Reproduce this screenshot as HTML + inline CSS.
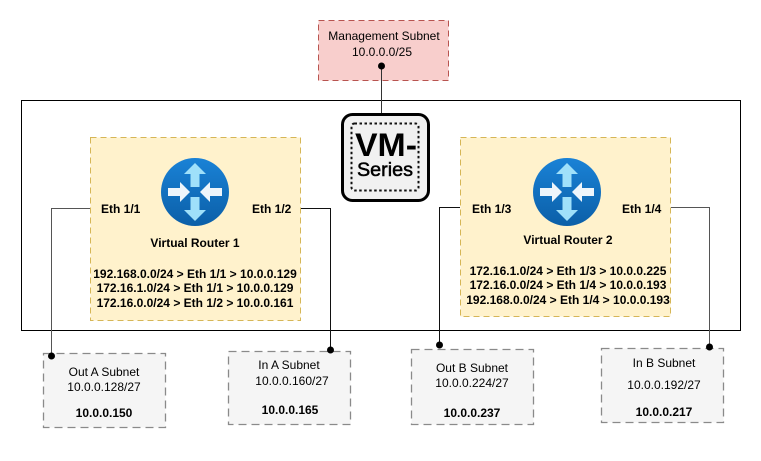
<!DOCTYPE html>
<html><head><meta charset="utf-8"><style>
html,body{margin:0;padding:0;background:#fff;}
svg{display:block;}
text{font-family:"Liberation Sans",Arial,sans-serif;font-size:12px;fill:#000;}
.b{font-weight:bold;}
</style></head><body>
<svg width="761" height="461" viewBox="0 0 761 461" xmlns="http://www.w3.org/2000/svg">
<defs>
<linearGradient id="rg" x1="0" y1="0" x2="0" y2="1">
<stop offset="0" stop-color="#1a82d6"/><stop offset="1" stop-color="#0b5fa8"/>
</linearGradient>
<g id="router">
<circle cx="34" cy="34" r="34" fill="url(#rg)"/>
<polygon points="34,5 45,16 38.5,16 38.5,29 29.5,29 29.5,16 23,16" fill="#9fe0fa"/>
<polygon points="34,63 45,52 38.5,52 38.5,39 29.5,39 29.5,52 23,52" fill="#9fe0fa"/>
<polygon points="29,34 19,24 19,30 7,30 7,38 19,38 19,44" fill="#eef5fb"/>
<polygon points="39,34 49,24 49,30 61,30 61,38 49,38 49,44" fill="#eef5fb"/>
</g>
</defs>

<!-- Management subnet -->
<rect x="318.5" y="20.5" width="130" height="60" fill="#f8cecc" stroke="#b85450" stroke-width="1" stroke-dasharray="6,4"/>
<text x="384" y="40" text-anchor="middle">Management Subnet</text>
<text x="382" y="56" text-anchor="middle">10.0.0.0/25</text>

<!-- outer box -->
<rect x="21.5" y="100.5" width="719" height="230" fill="none" stroke="#000" stroke-width="1"/>

<!-- mgmt connector -->
<line x1="381.5" y1="66" x2="381.5" y2="114" stroke="#333" stroke-width="1"/>
<circle cx="381.5" cy="66" r="3.5" fill="#000"/>

<!-- VM-Series -->
<rect x="342.5" y="114.5" width="86" height="86" rx="10" fill="#f1f1f1" stroke="#000" stroke-width="3"/>
<rect x="351.5" y="123.5" width="67" height="67" rx="3" fill="none" stroke="#111" stroke-width="2" stroke-dasharray="2.5,2.5"/>
<text x="386" y="156" text-anchor="middle" style="font-size:32px;font-weight:bold" textLength="62" lengthAdjust="spacingAndGlyphs">VM-</text>
<text x="385" y="176" text-anchor="middle" style="font-size:19px;stroke:#000;stroke-width:0.5" textLength="56" lengthAdjust="spacingAndGlyphs">Series</text>

<!-- VR1 -->
<rect x="90.5" y="137.5" width="210" height="183" fill="#fff2cc" stroke="#d6b656" stroke-width="1" stroke-dasharray="6,4"/>
<use href="#router" x="161" y="158"/>
<text x="101" y="213" class="b">Eth 1/1</text>
<text x="252" y="213" class="b">Eth 1/2</text>
<text x="195" y="247" class="b" text-anchor="middle">Virtual Router 1</text>
<text x="195" y="278" class="b" text-anchor="middle">192.168.0.0/24 &gt; Eth 1/1 &gt; 10.0.0.129</text>
<text x="195" y="292" class="b" text-anchor="middle">172.16.1.0/24 &gt; Eth 1/1 &gt; 10.0.0.129</text>
<text x="195" y="307" class="b" text-anchor="middle">172.16.0.0/24 &gt; Eth 1/2 &gt; 10.0.0.161</text>

<!-- VR2 -->
<rect x="460.5" y="137.5" width="210" height="179" fill="#fff2cc" stroke="#d6b656" stroke-width="1" stroke-dasharray="6,4"/>
<use href="#router" x="533" y="158"/>
<text x="472" y="213" class="b">Eth 1/3</text>
<text x="622" y="213" class="b">Eth 1/4</text>
<text x="568" y="244" class="b" text-anchor="middle">Virtual Router 2</text>
<text x="568" y="275" class="b" text-anchor="middle">172.16.1.0/24 &gt; Eth 1/3 &gt; 10.0.0.225</text>
<text x="568" y="289" class="b" text-anchor="middle">172.16.0.0/24 &gt; Eth 1/4 &gt; 10.0.0.193</text>
<text x="568" y="304" class="b" text-anchor="middle">192.168.0.0/24 &gt; Eth 1/4 &gt; 10.0.0.193</text>

<!-- subnet boxes -->
<rect x="43.5" y="353.5" width="122" height="74" fill="#f5f5f5" stroke="#8a8a8a" stroke-width="1.3" stroke-dasharray="8,5"/>
<text x="104" y="376" text-anchor="middle">Out A Subnet</text>
<text x="104" y="391" text-anchor="middle">10.0.0.128/27</text>
<text x="104" y="417" text-anchor="middle" class="b">10.0.0.150</text>

<rect x="228.5" y="351.5" width="122" height="73" fill="#f5f5f5" stroke="#8a8a8a" stroke-width="1.3" stroke-dasharray="8,5"/>
<text x="289" y="369" text-anchor="middle">In A Subnet</text>
<text x="292" y="385" text-anchor="middle">10.0.0.160/27</text>
<text x="290" y="414" text-anchor="middle" class="b">10.0.0.165</text>

<rect x="411.5" y="349.5" width="122" height="75" fill="#f5f5f5" stroke="#8a8a8a" stroke-width="1.3" stroke-dasharray="8,5"/>
<text x="472" y="372" text-anchor="middle">Out B Subnet</text>
<text x="472" y="387" text-anchor="middle">10.0.0.224/27</text>
<text x="472" y="417" text-anchor="middle" class="b">10.0.0.237</text>

<rect x="601.5" y="348.5" width="122" height="74" fill="#f5f5f5" stroke="#8a8a8a" stroke-width="1.3" stroke-dasharray="8,5"/>
<text x="664" y="367" text-anchor="middle">In B Subnet</text>
<text x="664" y="389" text-anchor="middle">10.0.0.192/27</text>
<text x="664" y="416" text-anchor="middle" class="b">10.0.0.217</text>

<!-- connectors -->
<polyline points="90,208.5 51.5,208.5 51.5,356" fill="none" stroke="#555" stroke-width="1"/>
<circle cx="51.5" cy="356" r="3.5" fill="#000"/>
<polyline points="301,208.5 330.5,208.5 330.5,350" fill="none" stroke="#111" stroke-width="1"/>
<circle cx="330.5" cy="350" r="3.5" fill="#000"/>
<polyline points="460,207.5 439.5,207.5 439.5,345" fill="none" stroke="#111" stroke-width="1"/>
<circle cx="439.5" cy="345" r="3.5" fill="#000"/>
<polyline points="671,207.5 709.5,207.5 709.5,347" fill="none" stroke="#555" stroke-width="1"/>
<circle cx="709.5" cy="347" r="3.5" fill="#000"/>
</svg>
</body></html>
